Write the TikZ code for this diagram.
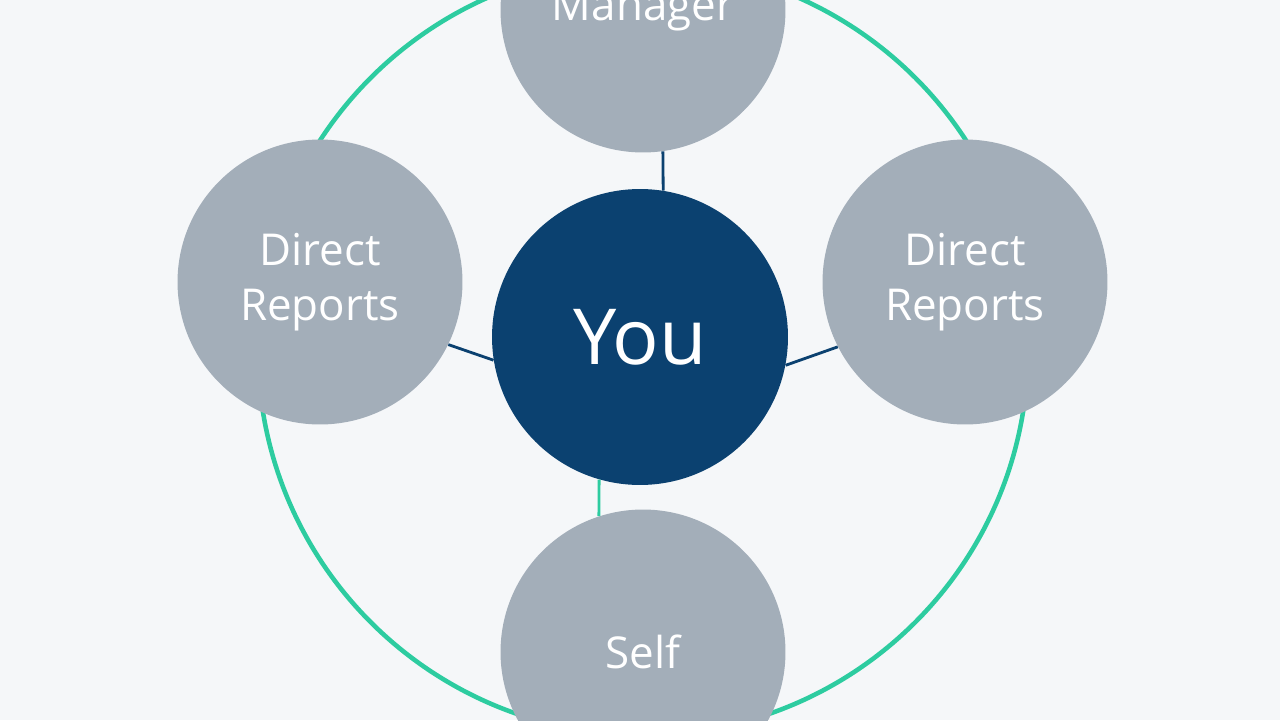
\documentclass[tikz,border=0pt]{standalone}
\usepackage{fontspec}
\setmainfont{Open Sans}
\begin{document}
\begin{tikzpicture}[x=0.02cm,y=-0.02cm,
  peer/.style={circle,fill=gray1,minimum size=5.7cm,inner sep=0pt,text=white,font=\fontsize{25}{31}\selectfont,align=center},
  me/.style={circle,fill=navy,minimum size=5.92cm,inner sep=0pt,text=white,font=\fontsize{44}{50}\selectfont},
  link/.style={draw=navy,line width=1.6pt}]
\definecolor{bg}{HTML}{F5F7F9}
\definecolor{gray1}{HTML}{A3AEB9}
\definecolor{navy}{HTML}{0B4170}
\definecolor{teal1}{HTML}{2DCCA0}
\fill[bg] (0,0) rectangle (1280,720);
\useasboundingbox (0,0) rectangle (1280,720);
\begin{scope}
\clip (0,0) rectangle (1280,720);
\draw[teal1,line width=2.6pt] (643,350) circle[radius=385];
\node[me] (you) at (640,337) {You};
\node[peer] (mgr) at (643,10) {Manager};
\node[peer] (dl) at (320,282) {Direct\\Reports};
\node[peer] (dr) at (965,282) {Direct\\Reports};
\node[peer] (self) at (643,652) {Self};
\draw[link] (you.81) -- (mgr.-82);
\draw[link] (you.189) -- (dl.-26);
\draw[link] (you.-11) -- (dr.207);
\draw[teal1,line width=1.6pt] (you.254) -- (self.108);
\end{scope}
\end{tikzpicture}
\end{document}
